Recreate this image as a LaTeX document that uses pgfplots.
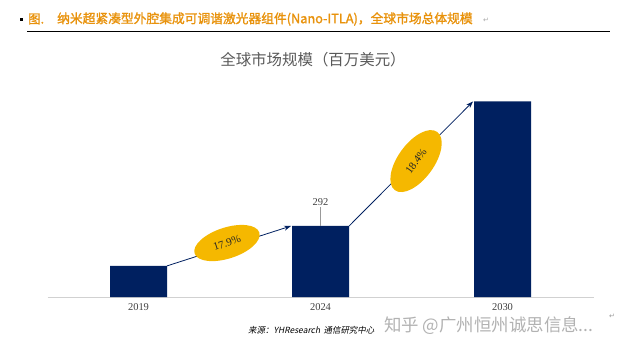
\documentclass[border=0pt]{standalone}
\usepackage{pgfplots}
\pgfplotsset{compat=1.18}
\usepackage{fontspec}
\usetikzlibrary{shapes.geometric,arrows.meta}
\setmainfont{Liberation Serif}
\newfontfamily\cjk{Noto Sans CJK SC}
\newfontfamily\cjkb{Noto Sans CJK SC}[FakeBold=1.6]
\newfontfamily\cjki{Noto Sans CJK SC}[FakeSlant=0.2]
\newfontfamily\sym{DejaVu Sans}
\definecolor{navy}{HTML}{002060}
\definecolor{gold}{HTML}{F5B800}
\definecolor{hdr}{HTML}{E8920C}
\definecolor{ttl}{HTML}{595959}
\begin{document}
\begin{tikzpicture}[x=1bp,y=1bp]
\path[use as bounding box] (0,0) rectangle (618,352);
% header
\fill[black] (19.5,331) rectangle (22.5,334);
\node[anchor=west,inner sep=0,text=hdr] at (28,333) {\cjkb\fontsize{12.5}{13}\selectfont 图.};
\node[anchor=west,inner sep=0,text=hdr] at (57,333) {\cjkb\fontsize{12.8}{13}\selectfont 纳米超紧凑型外腔集成可调谐激光器组件(Nano-ITLA)，全球市场总体规模};
\node[anchor=west,inner sep=0,text=black!35] at (483,332) {\sym\fontsize{7}{8}\selectfont ↵};
\draw[black,line width=0.8bp] (27,321) -- (610,321);
% title
\node[text=ttl,inner sep=0] at (313,292) {\cjk\fontsize{15.5}{16}\selectfont 全球市场规模（百万美元）};
\begin{axis}[
  at={(47.5bp,55bp)}, anchor=south west,
  width=546bp, height=214bp, scale only axis,
  xmin=-0.5, xmax=2.5, ymin=0, ymax=880,
  axis x line*=bottom, axis y line=none,
  x axis line style={-, color=black!18, line width=0.8bp},
  ybar, bar width=57bp,
  xtick={0,1,2}, xticklabels={2019,2024,2030},
  major tick length=0,
  xticklabel style={font=\fontsize{10.5}{11}\selectfont, text=black!75, yshift=-3bp},
  ytick=\empty,
  clip=false,
]
\addplot[fill=navy, draw=none] coordinates {(0,128) (1,292) (2,804)};
% label 292
\draw[black!40, line width=0.6bp] (axis cs:1,292) -- (axis cs:1,370);
\node[anchor=south, inner sep=1bp, text=black!75, font=\fontsize{10.5}{11}\selectfont] at (axis cs:1,370) {292};
% arrows
\draw[navy, line width=0.8bp, -{Stealth[length=7bp,width=5bp]}] (axis cs:0.157,128) -- (axis cs:0.838,292);
\draw[navy, line width=0.8bp, -{Stealth[length=7bp,width=5bp]}] (axis cs:1.157,292) -- (axis cs:1.838,804);
% ellipses
\node[ellipse, fill=gold, minimum width=68bp, minimum height=31bp, rotate=18, inner sep=0, font=\fontsize{11}{12}\selectfont, text=black!85] at (axis cs:0.486,222) {17.9\%};
\node[ellipse, fill=gold, minimum width=72bp, minimum height=36bp, rotate=54, inner sep=0, font=\fontsize{11}{12}\selectfont, text=black!85] at (axis cs:1.525,559) {18.4\%};
\end{axis}
% footer
\node[anchor=west, inner sep=0] at (248,22) {\cjki\fontsize{8.5}{9}\selectfont 来源：YHResearch\hspace{0.4em}通信研究中心};
\node[anchor=west, inner sep=0, text=black!30] at (384,26) {\cjk\fontsize{17.5}{18}\selectfont 知乎 @广州恒州诚思信息...};
\node[inner sep=0, text=black!40] at (612,36) {\sym\fontsize{7}{8}\selectfont ↵};
\end{tikzpicture}
\end{document}
